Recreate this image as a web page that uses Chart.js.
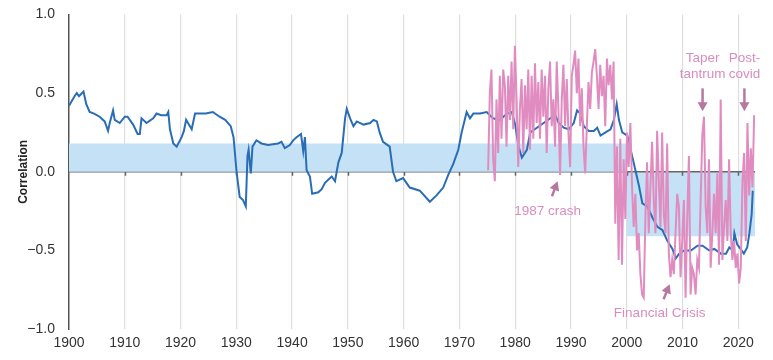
<!DOCTYPE html>
<html>
<head>
<meta charset="utf-8">
<script src="https://cdn.jsdelivr.net/npm/chart.js@4.4.1/dist/chart.umd.min.js"></script>
<style>
  html, body { margin: 0; padding: 0; background: #fff; }
  #wrap { width: 773px; height: 360px; }
</style>
</head>
<body>
<div id="wrap"><canvas id="corrchart"></canvas></div>
<script>
// Rolling correlation (blue)
var blueYears = [1900, 1901, 1901.4, 1901.8, 1902.6, 1903.1, 1903.7, 1904.5, 1905.5, 1906.4, 1907, 1907.3, 1907.9, 1908.2, 1909.1,
    1910, 1910.5, 1911.5, 1912.3, 1912.7, 1913, 1913.9, 1915.1, 1915.7, 1916.5, 1917.5, 1917.8, 1918.1, 1918.7, 1919.3,
    1920.2, 1920.6, 1921, 1921.5, 1922, 1922.6, 1923.5, 1924.5, 1925.8, 1927, 1928, 1929, 1929.5,
    1930.05, 1930.6, 1931.2, 1931.7, 1932, 1932.2, 1932.6, 1932.9, 1933.6, 1934.5, 1935.7, 1937.5, 1938.1, 1938.7, 1939.6,
    1940.2, 1940.8, 1941.6, 1942, 1942.3, 1942.6, 1943.2, 1943.6, 1944.7, 1945.3, 1945.9, 1947.1, 1947.7, 1948.3, 1948.9, 1949.5, 1949.8,
    1950.4, 1951, 1951.6, 1952.8, 1954, 1954.6, 1955.2, 1955.7, 1956.3, 1957.5, 1958.1, 1958.7, 1959.9,
    1961.1, 1962.9, 1964.7, 1965.9, 1967.1, 1968, 1968.9, 1969.8,
    1970.4, 1971.3, 1971.9, 1972.5, 1973.7, 1974.9, 1976, 1977.3, 1978.5, 1979.4,
    1980, 1980.6, 1981.2, 1982.1, 1982.7, 1983.9, 1985.1, 1986.3, 1987.2, 1987.8, 1988.7, 1989.6,
    1990.5, 1991.1, 1991.7, 1992.3, 1993.2, 1994.1, 1994.7, 1995.3, 1996.2, 1997.1, 1997.7, 1998.2, 1998.6, 1999.2,
    2000.1, 2000.7, 2001.3, 2002.2, 2002.8, 2003.7, 2004.6, 2005.5, 2006.4, 2007.3, 2008.2, 2008.8, 2009.4,
    2010.3, 2011.5, 2012.7, 2013.6, 2014.8, 2015.7, 2016.9, 2017.8, 2018.4, 2019, 2019.3, 2019.8,
    2020.2, 2021, 2021.6, 2022, 2022.4, 2022.6];
var blueValues = [0.42, 0.48, 0.50, 0.48, 0.51, 0.43, 0.38, 0.37, 0.35, 0.32, 0.26, 0.31, 0.39, 0.33, 0.31,
    0.35, 0.35, 0.30, 0.24, 0.24, 0.34, 0.31, 0.34, 0.37, 0.36, 0.36, 0.38, 0.27, 0.18, 0.16,
    0.22, 0.26, 0.33, 0.30, 0.27, 0.37, 0.37, 0.37, 0.38, 0.35, 0.33, 0.29, 0.22,
    0.0, -0.16, -0.18, -0.22, 0.10, 0.14, -0.01, 0.16, 0.20, 0.18, 0.17, 0.18, 0.19, 0.15, 0.17,
    0.20, 0.22, 0.24, 0.13, 0.22, 0.01, -0.03, -0.14, -0.13, -0.11, -0.07, -0.03, -0.06, 0.06, 0.12, 0.34, 0.40,
    0.34, 0.29, 0.32, 0.30, 0.31, 0.33, 0.32, 0.25, 0.19, 0.16, 0.0, -0.06, -0.04,
    -0.10, -0.12, -0.19, -0.15, -0.10, -0.02, 0.05, 0.14,
    0.25, 0.38, 0.34, 0.37, 0.37, 0.38, 0.34, 0.33, 0.37, 0.38,
    0.30, 0.16, 0.09, 0.14, 0.25, 0.28, 0.31, 0.34, 0.36, 0.31, 0.28, 0.27,
    0.31, 0.39, 0.37, 0.29, 0.26, 0.26, 0.28, 0.23, 0.25, 0.27, 0.33, 0.43, 0.33, 0.25,
    0.23, 0.14, 0.05, -0.09, -0.20, -0.22, -0.29, -0.35, -0.37, -0.44, -0.49, -0.55, -0.52,
    -0.50, -0.50, -0.47, -0.47, -0.50, -0.49, -0.52, -0.52, -0.48, -0.50, -0.39, -0.46,
    -0.48, -0.52, -0.48, -0.39, -0.27, -0.12];

// Short-window correlation (pink), one reading every ~0.3 years from 1975
var pinkStart = 1975.15;
var pinkStep = 0.3;
var pinkValues = [0.01, 0.50, 0.65, 0.08, -0.06, 0.46, 0.12, 0.61, 0.21, 0.65, 0.55, 0.16, 0.61, 0.33, 0.70, 0.27,
    0.80, 0.46, 0.03, 0.40, 0.59, 0.12, 0.55, 0.27, 0.65, 0.14, 0.61, 0.21, 0.69, 0.31, 0.57, 0.21,
    0.65, 0.35, 0.61, 0.12, 0.53, 0.70, 0.29, 0.46, 0.16, 0.70, 0.40, -0.02, 0.46, 0.68, 0.29, 0.59,
    0.25, 0.03, 0.61, 0.68, 0.77, 0.50, 0.72, 0.29, 0.53, 0.16, -0.01, 0.29, 0.57, 0.40, 0.63, 0.70,
    0.78, 0.61, 0.40, 0.68, 0.48, 0.61, 0.29, 0.72, 0.55, 0.68, 0.46, 0.70, -0.33, 0.16, -0.56, 0.21,
    -0.59, 0.08, -0.30, 0.25, 0.03, 0.31, -0.09, -0.35, -0.14, -0.50, -0.39, -0.65, -0.78, -0.80, -0.29, 0.06,
    -0.39, -0.09, 0.19, -0.18, -0.39, 0.26, -0.05, -0.35, 0.25, -0.27, -0.39, 0.18, -0.52, -0.67, -0.56, -0.65,
    -0.39, -0.14, -0.22, -0.67, -0.44, -0.18, -0.80, -0.29, 0.10, -0.78, -0.61, -0.65, -0.78, -0.56, -0.61, -0.18,
    0.23, 0.35, -0.22, -0.39, 0.08, -0.61, -0.39, -0.14, -0.39, -0.01, -0.59, 0.46, -0.56, -0.35, -0.18, -0.44,
    0.08, -0.39, -0.56, -0.44, -0.61, -0.52, -0.71, -0.61, -0.07, 0.12, -0.44, 0.31, -0.15, 0.15, -0.10, 0.36];

// Regime averages (shaded bands)
var regimeBreaks = [1900, 2000, 2023];
var regimeMeans = [0.18, -0.41];

var xTicks = [1900, 1910, 1920, 1930, 1940, 1950, 1960, 1970, 1980, 1990, 2000, 2010, 2020];
var yTicks = [-1.0, -0.5, 0.0, 0.5, 1.0];

var blueData = blueYears.map(function (yr, i) { return { x: yr, y: blueValues[i] }; });
var pinkData = pinkValues.map(function (v, i) { return { x: pinkStart + i * pinkStep, y: v }; });

var bandSets = regimeMeans.map(function (m, i) {
    return {
        data: [{ x: regimeBreaks[i], y: m }, { x: regimeBreaks[i + 1], y: m }],
        borderWidth: 0,
        pointRadius: 0,
        backgroundColor: '#c4e1f5',
        fill: 'origin',
        order: 3
    };
});

// text notes with arrows (data coordinates)
var notes = [
    { lines: ['1987 crash'], tx: 1985.8, ty: -0.25, from: [1986.6, -0.155], to: [1987.6, -0.06] },
    { lines: ['Financial Crisis'], tx: 2005.9, ty: -0.90, from: [2006.6, -0.81], to: [2007.7, -0.715] },
    { lines: ['Taper', 'tantrum'], tx: 2013.6, ty: 0.72, from: [2013.6, 0.53], to: [2013.6, 0.385] },
    { lines: ['Post-', 'covid'], tx: 2021.1, ty: 0.72, from: [2021.1, 0.53], to: [2021.1, 0.385] }
];

var zeroLine = {
    id: 'zeroLine',
    afterDatasetDraw: function (chart, args) {
        if (args.index !== 1) return;
        var ctx = chart.ctx, xs = chart.scales.x, area = chart.chartArea;
        var y0 = chart.scales.y.getPixelForValue(0);
        ctx.save();
        ctx.strokeStyle = '#666';
        ctx.lineWidth = 1.5;
        ctx.beginPath();
        ctx.moveTo(area.left, y0);
        ctx.lineTo(area.right, y0);
        xTicks.forEach(function (t) {
            if (t === 1900) return;
            var px = Math.round(xs.getPixelForValue(t)) + 0.5;
            ctx.moveTo(px, y0);
            ctx.lineTo(px, y0 + 4);
        });
        ctx.stroke();
        ctx.restore();
    }
};

var noteLabels = {
    id: 'noteLabels',
    afterDraw: function (chart) {
        var ctx = chart.ctx, xs = chart.scales.x, ys = chart.scales.y;
        ctx.save();
        ctx.font = '13.5px "Liberation Sans", Arial, sans-serif';
        ctx.textAlign = 'center';
        ctx.textBaseline = 'middle';
        notes.forEach(function (n) {
            ctx.fillStyle = '#d98cbf';
            var tx = xs.getPixelForValue(n.tx), ty = ys.getPixelForValue(n.ty);
            n.lines.forEach(function (s, i) { ctx.fillText(s, tx, ty + i * 16); });
            var x1 = xs.getPixelForValue(n.from[0]), y1 = ys.getPixelForValue(n.from[1]);
            var x2 = xs.getPixelForValue(n.to[0]), y2 = ys.getPixelForValue(n.to[1]);
            var a = Math.atan2(y2 - y1, x2 - x1);
            ctx.strokeStyle = '#b7789f';
            ctx.fillStyle = '#b7789f';
            ctx.lineWidth = 2.5;
            ctx.beginPath();
            ctx.moveTo(x1, y1);
            ctx.lineTo(x2 - 6 * Math.cos(a), y2 - 6 * Math.sin(a));
            ctx.stroke();
            ctx.beginPath();
            ctx.moveTo(x2, y2);
            ctx.lineTo(x2 - 9 * Math.cos(a) + 5 * Math.sin(a), y2 - 9 * Math.sin(a) - 5 * Math.cos(a));
            ctx.lineTo(x2 - 9 * Math.cos(a) - 5 * Math.sin(a), y2 - 9 * Math.sin(a) + 5 * Math.cos(a));
            ctx.closePath();
            ctx.fill();
        });
        ctx.restore();
    }
};

var chart1 = document.getElementById('corrchart');
var myChart1 = new Chart(chart1, {
    type: 'line',
    data: {
        datasets: bandSets.concat([{
            data: blueData,
            borderColor: '#2a6db5',
            borderWidth: 2,
            pointRadius: 0,
            tension: 0,
            fill: false,
            order: 2
        }, {
            data: pinkData,
            borderColor: '#e08cc0',
            borderWidth: 2,
            pointRadius: 0,
            tension: 0,
            fill: false,
            order: 1
        }])
    },
    options: {
        responsive: true,
        maintainAspectRatio: false,
        animation: false,
        layout: { padding: { left: 16, right: 18, top: 12, bottom: 2 } },
        scales: {
            x: {
                type: 'linear',
                min: 1900,
                max: 2023,
                afterBuildTicks: function (scale) {
                    scale.ticks = xTicks.map(function (v) { return { value: v }; });
                },
                ticks: {
                    callback: function (v) { return String(v); },
                    font: { size: 14, family: '"Liberation Sans", Arial, sans-serif' },
                    color: '#333',
                    padding: 6,
                    maxRotation: 0
                },
                grid: {
                    color: function (c) { return c.tick && c.tick.value === 1900 ? 'rgba(0,0,0,0)' : '#dedede'; },
                    lineWidth: 1.2,
                    drawTicks: false
                },
                border: { display: false }
            },
            y: {
                min: -1,
                max: 1,
                afterBuildTicks: function (scale) {
                    scale.ticks = yTicks.map(function (v) { return { value: v }; });
                },
                afterFit: function (scale) { scale.width = 53; },
                ticks: {
                    callback: function (v) { return v.toFixed(1).replace('-', '\u2212'); },
                    font: { size: 14, family: '"Liberation Sans", Arial, sans-serif' },
                    color: '#333',
                    padding: 6
                },
                grid: { display: false },
                border: { color: '#555', width: 1.5 },
                title: {
                    display: true,
                    text: 'Correlation',
                    color: '#222',
                    font: { size: 12, weight: 'bold', family: '"Liberation Sans", Arial, sans-serif' },
                    padding: 0
                }
            }
        },
        plugins: {
            legend: { display: false },
            tooltip: { enabled: false },
            title: { display: false }
        }
    },
    plugins: [zeroLine, noteLabels]
});
</script>
</body>
</html>
